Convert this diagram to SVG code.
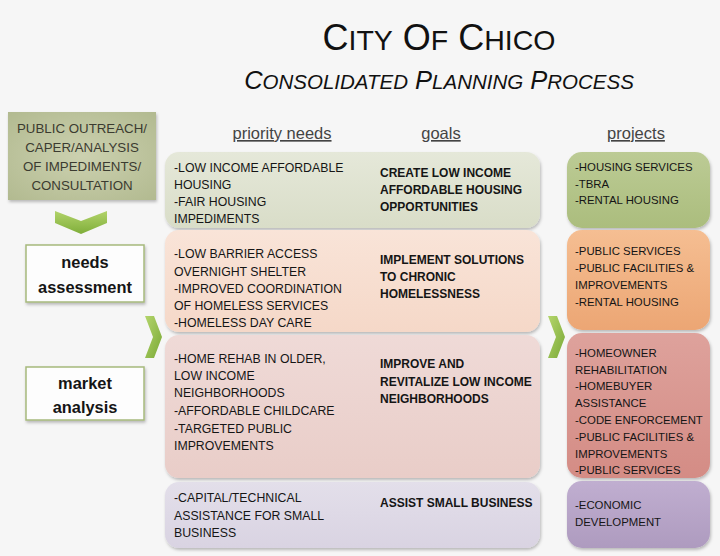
<svg xmlns="http://www.w3.org/2000/svg" width="720" height="556" viewBox="0 0 720 556">
<defs>
<filter id="sh" x="-10%" y="-10%" width="120%" height="130%">
<feDropShadow dx="1" dy="2" stdDeviation="1.5" flood-color="#000" flood-opacity="0.25"/>
</filter>
<linearGradient id="g1" x1="0" y1="0" x2="0" y2="1"><stop offset="0" stop-color="#e5e8d9"/><stop offset="1" stop-color="#d9ddc8"/></linearGradient>
<linearGradient id="g2" x1="0" y1="0" x2="0" y2="1"><stop offset="0" stop-color="#f9e4d8"/><stop offset="1" stop-color="#f5d8c8"/></linearGradient>
<linearGradient id="g3" x1="0" y1="0" x2="0" y2="1"><stop offset="0" stop-color="#efdad7"/><stop offset="1" stop-color="#e9cdc8"/></linearGradient>
<linearGradient id="g4" x1="0" y1="0" x2="0" y2="1"><stop offset="0" stop-color="#e3dfea"/><stop offset="1" stop-color="#d9d3e2"/></linearGradient>
<linearGradient id="p1" x1="0" y1="0" x2="0" y2="1"><stop offset="0" stop-color="#bccb95"/><stop offset="1" stop-color="#abbd7d"/></linearGradient>
<linearGradient id="p2" x1="0" y1="0" x2="0" y2="1"><stop offset="0" stop-color="#f5be92"/><stop offset="1" stop-color="#eca674"/></linearGradient>
<linearGradient id="p3" x1="0" y1="0" x2="0" y2="1"><stop offset="0" stop-color="#dea29c"/><stop offset="1" stop-color="#d48c85"/></linearGradient>
<linearGradient id="p4" x1="0" y1="0" x2="0" y2="1"><stop offset="0" stop-color="#c0aed0"/><stop offset="1" stop-color="#ae9bbf"/></linearGradient>
<radialGradient id="src" cx="0.5" cy="0.5" r="0.7"><stop offset="0" stop-color="#ccd1b0"/><stop offset="1" stop-color="#b2ba90"/></radialGradient>
<linearGradient id="chev" x1="0" y1="0" x2="0" y2="1"><stop offset="0" stop-color="#b2d36a"/><stop offset="1" stop-color="#7fae3a"/></linearGradient>
<linearGradient id="chevr" x1="0" y1="0" x2="1" y2="1"><stop offset="0" stop-color="#b4d56c"/><stop offset="1" stop-color="#7aa936"/></linearGradient>
<style>
text{font-family:"Liberation Sans",Arial,sans-serif;fill:#151515}
.pn{font-size:12.3px}
.gl{font-size:12px;font-weight:bold}
.pj{font-size:11.4px}
.hd{font-size:16.5px;fill:#444;text-decoration:underline}
.src{font-size:13.3px;fill:#3b3b30;text-anchor:middle}
.stg{font-size:16.4px;font-weight:bold;text-anchor:middle}
.stgbox{fill:#fdfdfd;stroke:#a6b97c;stroke-width:1.5}
</style>
</defs>
<rect width="720" height="556" fill="#f6f6f6"/>

<g id="title">
<text x="439" y="50" text-anchor="middle" style="font-size:36px;fill:#111">C<tspan style="font-size:28.5px">ITY</tspan> O<tspan style="font-size:28.5px">F</tspan> C<tspan style="font-size:28.5px">HICO</tspan></text>
<text x="439" y="89" text-anchor="middle" style="font-size:25.5px;font-style:italic;fill:#111">C<tspan style="font-size:20.5px">ONSOLIDATED</tspan> P<tspan style="font-size:20.5px">LANNING</tspan> P<tspan style="font-size:20.5px">ROCESS</tspan></text>
</g>

<g id="headers">
<text class="hd" x="282" y="139" text-anchor="middle">priority needs</text>
<text class="hd" x="441" y="139" text-anchor="middle">goals</text>
<text class="hd" x="636" y="139" text-anchor="middle">projects</text>
</g>

<g id="source">
<rect x="8" y="112" width="148" height="88" fill="url(#src)" filter="url(#sh)"/>
<text class="src" x="82" y="133">PUBLIC OUTREACH/</text>
<text class="src" x="82" y="152">CAPER/ANALYSIS</text>
<text class="src" x="82" y="171">OF IMPEDIMENTS/</text>
<text class="src" x="82" y="190">CONSULTATION</text>
</g>

<g id="needs-assessment">
<rect class="stgbox" x="26" y="245" width="118" height="57" filter="url(#sh)"/>
<text class="stg" x="85" y="268">needs</text>
<text class="stg" x="85" y="293">assessment</text>
</g>

<g id="market-analysis">
<rect class="stgbox" x="26" y="367" width="118" height="53" filter="url(#sh)"/>
<text class="stg" x="85" y="389">market</text>
<text class="stg" x="85" y="413">analysis</text>
</g>

<g id="connectors">
<polygon points="55,211 81,221 107,211 107,223 81,234 55,223" fill="url(#chev)"/>
<polygon points="145,316 154,316 162,337 154,358 145,358 153,337" fill="url(#chevr)"/>
<polygon points="548,316 557,316 565,337 557,358 548,358 556,337" fill="url(#chevr)"/>
</g>

<g id="row1">
<rect x="165" y="152" width="375" height="76" rx="14" fill="url(#g1)" filter="url(#sh)"/>
<text class="pn" x="174" y="172">-LOW INCOME AFFORDABLE</text>
<text class="pn" x="174" y="189">HOUSING</text>
<text class="pn" x="174" y="206">-FAIR HOUSING</text>
<text class="pn" x="174" y="223">IMPEDIMENTS</text>
<text class="gl" x="380" y="177">CREATE LOW INCOME</text>
<text class="gl" x="380" y="194">AFFORDABLE HOUSING</text>
<text class="gl" x="380" y="211">OPPORTUNITIES</text>
</g>

<g id="row2">
<rect x="165" y="230" width="375" height="102" rx="14" fill="url(#g2)" filter="url(#sh)"/>
<text class="pn" x="174" y="258">-LOW BARRIER ACCESS</text>
<text class="pn" x="174" y="276">OVERNIGHT SHELTER</text>
<text class="pn" x="174" y="293">-IMPROVED COORDINATION</text>
<text class="pn" x="174" y="310">OF HOMELESS SERVICES</text>
<text class="pn" x="174" y="327">-HOMELESS DAY CARE</text>
<text class="gl" x="380" y="264">IMPLEMENT SOLUTIONS</text>
<text class="gl" x="380" y="281">TO CHRONIC</text>
<text class="gl" x="380" y="298">HOMELESSNESS</text>
</g>

<g id="row3">
<rect x="165" y="335" width="375" height="143" rx="14" fill="url(#g3)" filter="url(#sh)"/>
<text class="pn" x="174" y="363">-HOME REHAB IN OLDER,</text>
<text class="pn" x="174" y="380">LOW INCOME</text>
<text class="pn" x="174" y="397">NEIGHBORHOODS</text>
<text class="pn" x="174" y="415">-AFFORDABLE CHILDCARE</text>
<text class="pn" x="174" y="433">-TARGETED PUBLIC</text>
<text class="pn" x="174" y="450">IMPROVEMENTS</text>
<text class="gl" x="380" y="368">IMPROVE AND</text>
<text class="gl" x="380" y="386">REVITALIZE LOW INCOME</text>
<text class="gl" x="380" y="403">NEIGHBORHOODS</text>
</g>

<g id="row4">
<rect x="165" y="482" width="375" height="66" rx="14" fill="url(#g4)" filter="url(#sh)"/>
<text class="pn" x="174" y="502">-CAPITAL/TECHNICAL</text>
<text class="pn" x="174" y="520">ASSISTANCE FOR SMALL</text>
<text class="pn" x="174" y="537">BUSINESS</text>
<text class="gl" x="380" y="507">ASSIST SMALL BUSINESS</text>
</g>

<g id="proj1">
<rect x="567" y="152" width="143" height="76" rx="15" fill="url(#p1)" filter="url(#sh)"/>
<text class="pj" x="575" y="171">-HOUSING SERVICES</text>
<text class="pj" x="575" y="188">-TBRA</text>
<text class="pj" x="575" y="204">-RENTAL HOUSING</text>
</g>

<g id="proj2">
<rect x="567" y="230" width="143" height="100" rx="15" fill="url(#p2)" filter="url(#sh)"/>
<text class="pj" x="575" y="255">-PUBLIC SERVICES</text>
<text class="pj" x="575" y="272">-PUBLIC FACILITIES &amp;</text>
<text class="pj" x="575" y="289">IMPROVEMENTS</text>
<text class="pj" x="575" y="306">-RENTAL HOUSING</text>
</g>

<g id="proj3">
<rect x="567" y="333" width="143" height="145" rx="15" fill="url(#p3)" filter="url(#sh)"/>
<text class="pj" x="575" y="357">-HOMEOWNER</text>
<text class="pj" x="575" y="374">REHABILITATION</text>
<text class="pj" x="575" y="390">-HOMEBUYER</text>
<text class="pj" x="575" y="407">ASSISTANCE</text>
<text class="pj" x="575" y="424">-CODE ENFORCEMENT</text>
<text class="pj" x="575" y="441">-PUBLIC FACILITIES &amp;</text>
<text class="pj" x="575" y="458">IMPROVEMENTS</text>
<text class="pj" x="575" y="474">-PUBLIC SERVICES</text>
</g>

<g id="proj4">
<rect x="567" y="481" width="143" height="67" rx="15" fill="url(#p4)" filter="url(#sh)"/>
<text class="pj" x="575" y="509">-ECONOMIC</text>
<text class="pj" x="575" y="526">DEVELOPMENT</text>
</g>
</svg>
